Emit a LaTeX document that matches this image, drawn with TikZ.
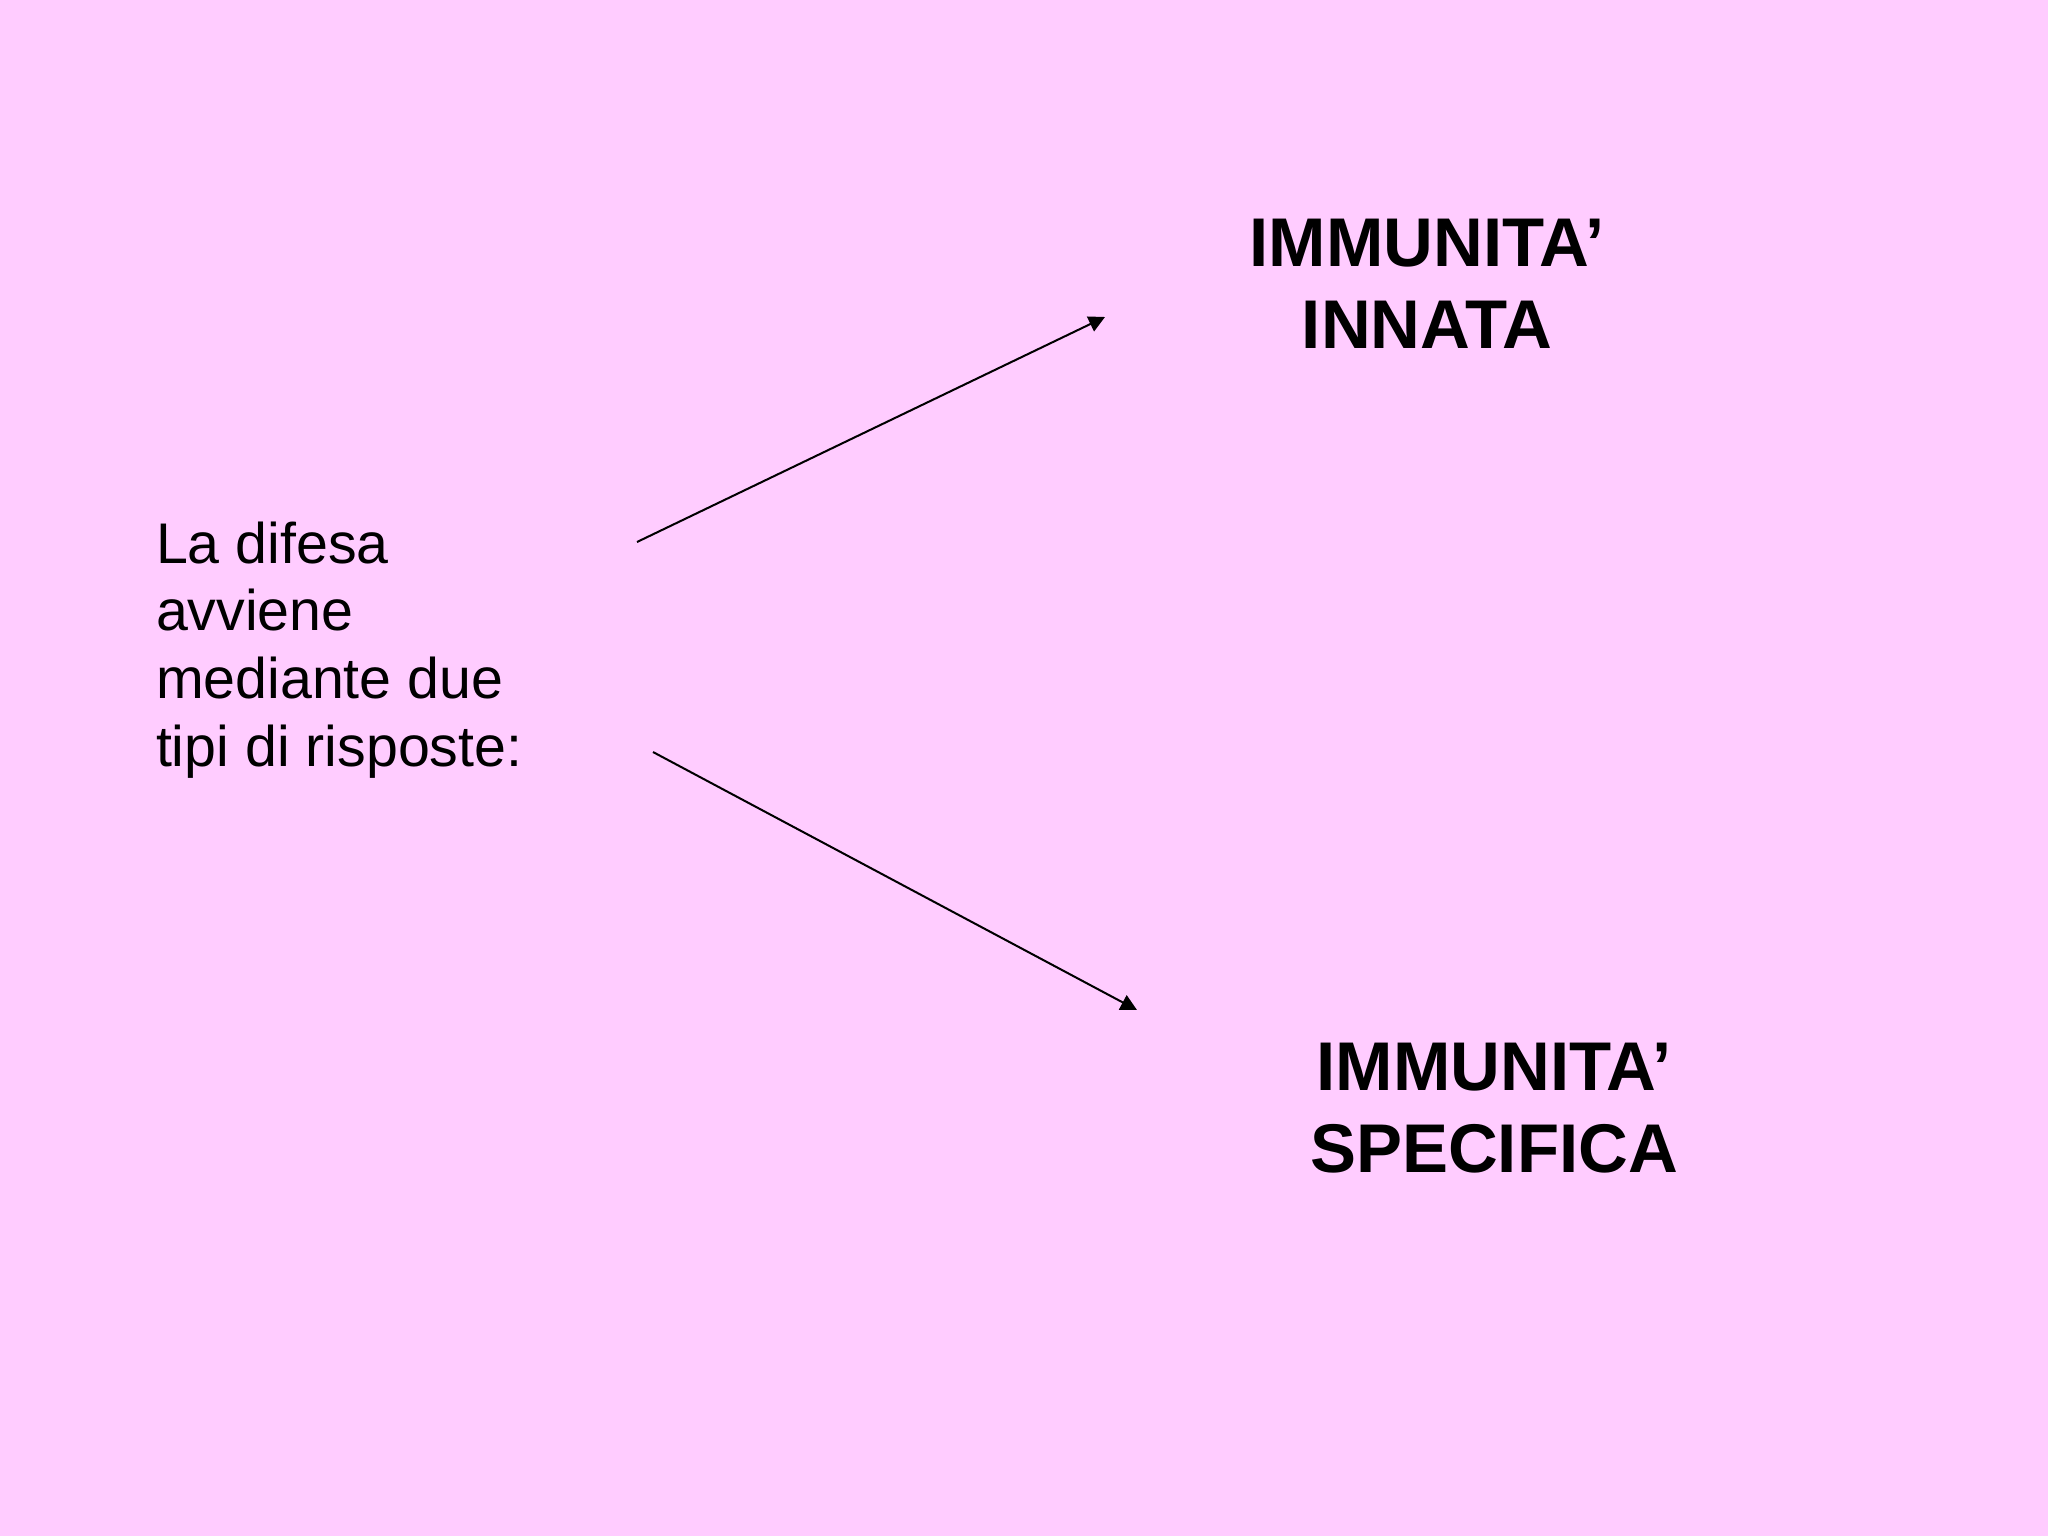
\documentclass[tikz,border=0pt]{standalone}
\usepackage{fontspec}
\setmainfont{Liberation Sans}
\usetikzlibrary{arrows.meta}
\definecolor{bgpink}{RGB}{255,204,255}
\begin{document}
\begin{tikzpicture}[x=0.01cm,y=-0.01cm,
  body/.style={inner sep=0pt,outer sep=0pt,align=left,anchor=base west,
    font=\fontsize{16.3pt}{19.2pt}\selectfont},
  head/.style={inner sep=0pt,outer sep=0pt,align=center,anchor=base,
    font=\fontsize{19.6pt}{23.3pt}\selectfont\bfseries},
  link/.style={line width=0.57pt,-{Triangle[length=4.6pt,width=4.6pt]}}]
\fill[bgpink] (0,0) rectangle (2048,1536);
\useasboundingbox (0,0) rectangle (2048,1536);
\node[body] (src) at (156,766) {La difesa\\avviene\\mediante due\\tipi di risposte:};
\node[head] (innata) at (1427,348) {IMMUNITA’\\INNATA};
\node[head] (specifica) at (1494,1172) {IMMUNITA’\\SPECIFICA};
\coordinate (s1) at (637,542);
\coordinate (e1) at (1105,317);
\coordinate (s2) at (653,752);
\coordinate (e2) at (1137,1010);
\draw[link] (s1) -- (e1);
\draw[link] (s2) -- (e2);
\end{tikzpicture}
\end{document}
